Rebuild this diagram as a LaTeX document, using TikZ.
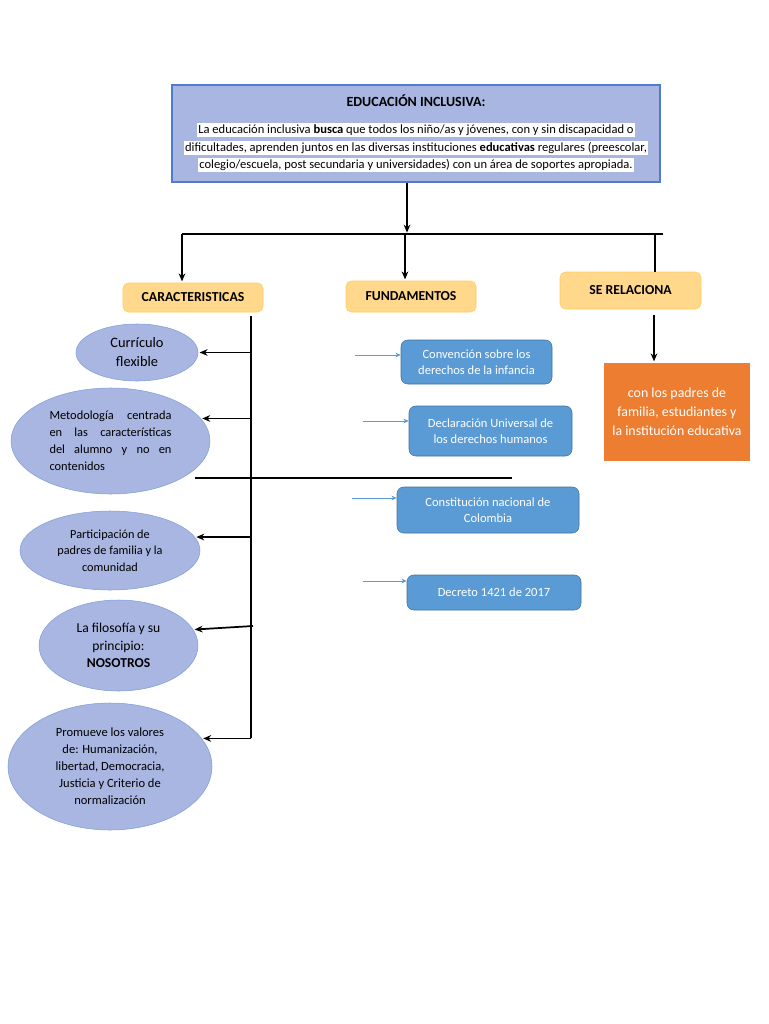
\documentclass[tikz,border=0pt]{standalone}
\usepackage{fontspec}
\setmainfont{Carlito}
\usepackage{xcolor}
\usetikzlibrary{arrows.meta,shapes.geometric}
\setlength{\fboxsep}{1pt}

\definecolor{lila}{HTML}{A8B6E1}
\definecolor{lilaline}{HTML}{4F7DCB}
\definecolor{ellline}{HTML}{7E9EDA}
\definecolor{amarillo}{HTML}{FFD88C}
\definecolor{amarilloline}{HTML}{FFCB57}
\definecolor{azul}{HTML}{5B9BD5}
\definecolor{azulline}{HTML}{41719C}
\definecolor{naranja}{HTML}{ED7D31}

\begin{document}
\begin{tikzpicture}[x=0.75pt, y=-0.75pt,
	flecha/.style={->, line width=1.3pt, >={Stealth[length=6pt,width=5pt]}, shorten >=1pt},
	linea/.style={line width=1.3pt},
	fina/.style={->, azul, line width=0.6pt, >={Stealth[length=4pt,width=3.5pt]}},
	titulo/.style={draw=amarilloline, fill=amarillo, rounded corners=4pt, inner sep=0pt, font=\fontsize{10.3}{12}\selectfont\bfseries},
	globo/.style={ellipse, draw=ellline, fill=lila, inner sep=0pt, align=center},
	caja/.style={draw=azulline, fill=azul, rounded corners=5pt, text=white, align=center, inner sep=0pt, font=\fontsize{9.4}{11.6}\selectfont}]
	\useasboundingbox (0,0) rectangle (768,1024);

	% cuadro principal
	\node[draw=lilaline, fill=lila, line width=0.8pt, minimum width=366pt, minimum height=72.75pt, align=center, inner sep=0pt, font=\fontsize{9.4}{13.1}\selectfont] (edu) at (416,133.5) {{\fontsize{10.5}{12}\selectfont\textbf{EDUCACIÓN INCLUSIVA:}}\\[7pt]
		\colorbox{white}{La educación inclusiva \textbf{busca} que todos los niño/as y jóvenes, con y sin discapacidad o}\\
		\colorbox{white}{dificultades, aprenden juntos en las diversas instituciones \textbf{educativas} regulares (preescolar,}\\
		\colorbox{white}{colegio/escuela, post secundaria y universidades) con un área de soportes apropiada.}};

	\node[titulo, minimum width=105pt, minimum height=21.75pt] (car) at (193,297.5) {CARACTERISTICAS};
	\node[titulo, minimum width=97.5pt, minimum height=23.25pt] (fun) at (411,296.5) {FUNDAMENTOS};
	\node[titulo, minimum width=105.75pt, minimum height=27.75pt] (rel) at (630.5,290.5) {SE RELACIONA};

	% barra de reparto
	\coordinate (barL) at (182,234);
	\coordinate (barR) at (663,234);
	\coordinate (bar1) at (407,234);
	\coordinate (bar2) at (405,234);
	\coordinate (bar3) at (655,234);
	\draw[linea] (barL) -- (barR);
	\draw[flecha] (edu.south -| bar1) -- (bar1);
	\draw[flecha] (barL) -- (barL |- car.north);
	\draw[flecha] (bar2) -- (bar2 |- fun.north);
	\draw[linea] (bar3) -- (bar3 |- rel.north);

	% caracteristicas
	\node[globo, minimum width=91.5pt, minimum height=42.75pt, font=\fontsize{10.8}{14.25}\selectfont] (cur) at (137,352.5) {Currículo\\flexible};
	\node[globo, minimum width=149.25pt, minimum height=79.5pt, align=left, font=\fontsize{9.3}{12.75}\selectfont] (met) at (110.5,441) {\makebox[91.5pt][s]{Metodología centrada}\\\makebox[91.5pt][s]{en las características}\\\makebox[91.5pt][s]{del alumno y no en}\\contenidos};
	\node[globo, minimum width=135pt, minimum height=59.25pt, font=\fontsize{9.2}{12.4}\selectfont] (par) at (110,550.5) {Participación de\\padres de familia y la\\comunidad};
	\node[globo, minimum width=119.25pt, minimum height=68.25pt, font=\fontsize{10.2}{13.1}\selectfont] (fil) at (118.5,645.5) {La filosofía y su\\principio:\\\textbf{NOSOTROS}};
	\node[globo, minimum width=153pt, minimum height=95.25pt, font=\fontsize{9.4}{12.75}\selectfont] (pro) at (110,766.5) {Promueve los valores\\de: Humanización,\\libertad, Democracia,\\Justicia y Criterio de\\normalización};

	\coordinate (spA) at (251,316);
	\coordinate (fil0) at (253,626);
	\draw[linea] (spA) -- (spA |- pro.17);
	\draw[flecha] (spA |- cur.east) -- (cur.east);
	\draw[flecha] (spA |- met.14) -- (met.14);
	\draw[flecha] (spA |- par.9) -- (par.9);
	\draw[flecha] (fil0) -- (fil.12);
	\draw[flecha] (spA |- pro.17) -- (pro.17);

	\coordinate (rA) at (195,478);
	\coordinate (rB) at (512,478);
	\draw[linea] (rA) -- (rB);

	% fundamentos
	\node[caja, minimum width=113.25pt, minimum height=33pt] (con) at (476.5,362) {Convención sobre los\\derechos de la infancia};
	\node[caja, minimum width=122.25pt, minimum height=37.5pt] (dec) at (490.5,431) {Declaración Universal de\\los derechos humanos};
	\node[caja, minimum width=136.5pt, minimum height=34.5pt] (cons) at (488,510) {Constitución nacional de\\Colombia};
	\node[caja, minimum width=130.5pt, minimum height=26.25pt] (dcr) at (494,592.5) {Decreto 1421 de 2017};

	\coordinate (f1) at (355,355);
	\coordinate (f2) at (363,421);
	\coordinate (f3) at (352,498);
	\coordinate (f4) at (363,581);
	\draw[fina] (f1) -- (f1 -| con.west);
	\draw[fina] (f2) -- (f2 -| dec.west);
	\draw[fina] (f3) -- (f3 -| cons.west);
	\draw[fina] (f4) -- (f4 -| dcr.west);

	% se relaciona
	\node[fill=naranja, minimum width=109.5pt, minimum height=73.5pt, text=white, align=center, inner sep=0pt, font=\fontsize{10.4}{14.25}\selectfont] (pad) at (677,412) {con los padres de\\familia, estudiantes y\\la institución educativa};
	\coordinate (r0) at (654,315);
	\draw[flecha] (r0) -- (r0 |- pad.north);
\end{tikzpicture}
\end{document}
